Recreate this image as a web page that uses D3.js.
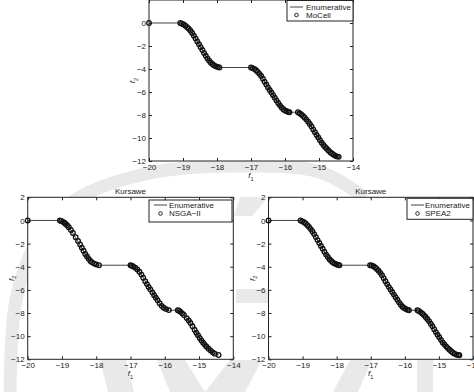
<!DOCTYPE html>
<html lang="en">
<head>
<meta charset="UTF-8">
<title>Kursawe</title>
<script src="https://d3js.org/d3.v7.min.js"></script>
<style>
  body { margin: 0; background: #fff; font-family: "Liberation Sans", Arial, Helvetica, sans-serif; }
  svg { display: block; }
  .tick text { font-size: 8px; fill: #222; font-family: "Liberation Sans", Arial, sans-serif; }
  .tick line { stroke: #222; }
  .lbl { font-size: 8px; fill: #222; }
</style>
</head>
<body>
<div id="chart"></div>
<script>
// tick values
const xTicks = [-20, -19, -18, -17, -16, -15, -14];
const yTicks = [2, 0, -2, -4, -6, -8, -10, -12];

// true front found by enumeration [f1, f2]
const enumerative = [
  [-20, 0], [-19.08, 0], [-19.0, -0.1], [-18.9, -0.3], [-18.8, -0.6], [-18.7, -1.0], [-18.6, -1.5],
  [-18.5, -2.0], [-18.4, -2.5], [-18.3, -3.0], [-18.2, -3.4], [-18.1, -3.65], [-18.0, -3.8], [-17.93, -3.87],
  [-17.0, -3.87], [-16.9, -4.0], [-16.8, -4.25], [-16.7, -4.6], [-16.6, -5.1], [-16.5, -5.6], [-16.4, -6.05],
  [-16.3, -6.5], [-16.2, -6.95], [-16.1, -7.35], [-16.0, -7.6], [-15.9, -7.73], [-15.87, -7.76],
  [-15.62, -7.76], [-15.5, -8.0], [-15.4, -8.3], [-15.3, -8.65], [-15.2, -9.1], [-15.1, -9.6], [-15.0, -10.05],
  [-14.9, -10.5], [-14.8, -10.85], [-14.7, -11.15], [-14.6, -11.4], [-14.5, -11.57], [-14.42, -11.64]
];

// solutions found by each algorithm [f1, f2]
const mocell = [
  [-20, 0],
  [-19.08, 0], [-19.03, -0.06], [-18.98, -0.13], [-18.93, -0.23], [-18.88, -0.36], [-18.83, -0.5], [-18.78, -0.67],
  [-18.73, -0.87], [-18.68, -1.1], [-18.63, -1.34], [-18.58, -1.6], [-18.53, -1.85], [-18.48, -2.1], [-18.43, -2.35],
  [-18.38, -2.6], [-18.33, -2.85], [-18.28, -3.08], [-18.23, -3.28], [-18.18, -3.46], [-18.13, -3.59], [-18.08, -3.69],
  [-18.03, -3.77], [-17.98, -3.82], [-17.93, -3.87],
  [-17.0, -3.87], [-16.95, -3.92], [-16.9, -4.0], [-16.85, -4.11], [-16.8, -4.25], [-16.75, -4.42], [-16.7, -4.6],
  [-16.65, -4.84], [-16.6, -5.1], [-16.55, -5.35], [-16.5, -5.6], [-16.45, -5.83], [-16.4, -6.05], [-16.35, -6.28],
  [-16.3, -6.5], [-16.25, -6.73], [-16.2, -6.95], [-16.15, -7.16], [-16.1, -7.35], [-16.05, -7.5], [-16.0, -7.6],
  [-15.95, -7.68], [-15.9, -7.73], [-15.87, -7.76],
  [-15.62, -7.76], [-15.57, -7.85], [-15.52, -7.96], [-15.47, -8.08], [-15.42, -8.23], [-15.37, -8.4], [-15.32, -8.58],
  [-15.27, -8.78], [-15.22, -9.0], [-15.17, -9.25], [-15.12, -9.5], [-15.07, -9.74], [-15.02, -9.96], [-14.97, -10.19],
  [-14.92, -10.41], [-14.87, -10.61], [-14.82, -10.78], [-14.77, -10.94], [-14.72, -11.09], [-14.67, -11.23],
  [-14.62, -11.35], [-14.57, -11.46], [-14.52, -11.55], [-14.47, -11.6], [-14.42, -11.64]
];

const nsga2 = [
  [-20, 0],
  [-19.06, 0], [-19.02, -0.04], [-18.97, -0.12], [-18.93, -0.2], [-18.9, -0.28], [-18.85, -0.42], [-18.8, -0.58],
  [-18.74, -0.82], [-18.68, -1.08], [-18.6, -1.45], [-18.53, -1.78], [-18.47, -2.08], [-18.42, -2.35], [-18.37, -2.62],
  [-18.32, -2.9], [-18.27, -3.12], [-18.22, -3.32], [-18.17, -3.5], [-18.12, -3.62], [-18.06, -3.73], [-18.0, -3.8],
  [-17.92, -3.87],
  [-17.0, -3.87], [-16.96, -3.91], [-16.92, -3.97], [-16.86, -4.08], [-16.8, -4.24], [-16.74, -4.44], [-16.68, -4.68],
  [-16.63, -4.95], [-16.57, -5.25], [-16.52, -5.5], [-16.47, -5.75], [-16.42, -5.96], [-16.36, -6.23], [-16.31, -6.46],
  [-16.26, -6.68], [-16.21, -6.9], [-16.15, -7.16], [-16.09, -7.38], [-16.03, -7.54], [-15.96, -7.66], [-15.88, -7.75],
  [-15.62, -7.76], [-15.58, -7.8], [-15.54, -7.9], [-15.49, -8.03], [-15.44, -8.17], [-15.36, -8.44], [-15.3, -8.65],
  [-15.25, -8.86], [-15.19, -9.15], [-15.13, -9.45], [-15.08, -9.7], [-15.03, -9.92], [-14.98, -10.15], [-14.93, -10.37],
  [-14.88, -10.57], [-14.83, -10.75], [-14.78, -10.91], [-14.72, -11.09], [-14.66, -11.25], [-14.6, -11.4],
  [-14.54, -11.51], [-14.43, -11.63]
];

const spea2 = [
  [-20, 0],
  [-19.06, 0], [-19.01, -0.08], [-18.96, -0.16], [-18.91, -0.27], [-18.86, -0.41], [-18.81, -0.56], [-18.76, -0.75],
  [-18.71, -0.95], [-18.66, -1.18], [-18.61, -1.44], [-18.56, -1.7], [-18.51, -1.95], [-18.46, -2.2], [-18.41, -2.45],
  [-18.36, -2.7], [-18.31, -2.95], [-18.26, -3.16], [-18.21, -3.36], [-18.16, -3.51], [-18.11, -3.63], [-18.06, -3.73],
  [-18.01, -3.79], [-17.96, -3.84], [-17.92, -3.87],
  [-17.02, -3.87], [-16.97, -3.9], [-16.92, -3.96], [-16.87, -4.06], [-16.82, -4.19], [-16.77, -4.35], [-16.72, -4.53],
  [-16.67, -4.74], [-16.62, -4.99], [-16.57, -5.25], [-16.52, -5.5], [-16.47, -5.74], [-16.42, -5.96], [-16.37, -6.19],
  [-16.32, -6.41], [-16.27, -6.64], [-16.22, -6.86], [-16.17, -7.08], [-16.12, -7.28], [-16.07, -7.45], [-16.02, -7.57],
  [-15.97, -7.66], [-15.92, -7.72], [-15.88, -7.76],
  [-15.63, -7.76], [-15.59, -7.82], [-15.54, -7.92], [-15.49, -8.04], [-15.44, -8.18], [-15.39, -8.35], [-15.34, -8.52],
  [-15.29, -8.7], [-15.24, -8.92], [-15.19, -9.15], [-15.14, -9.4], [-15.09, -9.65], [-15.04, -9.87], [-14.99, -10.1],
  [-14.94, -10.32], [-14.89, -10.54], [-14.84, -10.71], [-14.79, -10.88], [-14.74, -11.03], [-14.69, -11.18],
  [-14.64, -11.31], [-14.59, -11.43], [-14.54, -11.52], [-14.48, -11.6], [-14.43, -11.63], [-14.4, -11.65]
];

const W = 474, H = 392;

const svg = d3.select("#chart").append("svg")
  .attr("width", W)
  .attr("height", H);

// faint watermark in the background
const wm = svg.append("g").attr("fill", "#e9e9e9").attr("stroke", "none");
wm.append("path")
  .attr("d", d3.line().curve(d3.curveCatmullRom)([[10, 400], [16, 300], [38, 240], [75, 200], [150, 173], [237, 166], [320, 172], [365, 198]]))
  .attr("fill", "none").attr("stroke", "#e9e9e9").attr("stroke-width", 13);
wm.append("polygon").attr("points", "236,289 268,289 268,303 236,303");
wm.append("polygon").attr("points", "240,197 268,197 252,216 234,216");
wm.append("polygon").attr("points", "100,360 126,360 134,392 108,392");
wm.append("polygon").attr("points", "157,360 185,360 205,392 170,392");
wm.append("polygon").attr("points", "230,360 262,360 245,392 205,392");
wm.append("polygon").attr("points", "350,360 372,360 358,392 333,392");
wm.append("polygon").attr("points", "417,360 433,360 433,392 417,392");

const panels = [
  { name: "MoCell", pts: mocell, x0: 149, x1: 353, y0: 161, y1: 0, title: false,
    leg: { x: 287, y: 0.5, w: 66, h: 20.5, r1: 7, r2: 15, lx: 290, tx: 306 } },
  { name: "NSGA\u2212II", pts: nsga2, x0: 27.7, x1: 233.3, y0: 359.3, y1: 197.3, title: true,
    leg: { x: 149, y: 200, w: 83, h: 22, r1: 205, r2: 213.5, lx: 154, tx: 169 } },
  { name: "SPEA2", pts: spea2, x0: 268.5, x1: 473, y0: 359.3, y1: 197.3, title: true,
    leg: { x: 407, y: 198.3, w: 66, h: 21, r1: 205, r2: 213.5, lx: 411, tx: 425 } }
];

panels.forEach(p => {
  const x = d3.scaleLinear().domain([-20, -14]).range([p.x0, p.x1]);
  const y = d3.scaleLinear().domain([-12, 2]).range([p.y0, p.y1]);
  const g = svg.append("g");

  g.append("rect")
    .attr("x", p.x0).attr("y", p.y1)
    .attr("width", p.x1 - p.x0).attr("height", p.y0 - p.y1)
    .attr("fill", "#fff");

  const fmt = d => d3.format("")(d);
  // label only the ticks that sit inside the picture
  const yLab = yTicks.filter(v => y(v) > 3);

  g.append("g").attr("transform", `translate(0,${p.y0})`)
    .call(d3.axisBottom(x).tickValues(xTicks).tickSizeInner(-3).tickSizeOuter(0).tickPadding(3).tickFormat(fmt))
    .call(a => a.select(".domain").remove());
  g.append("g").attr("transform", `translate(0,${p.y1})`)
    .call(d3.axisTop(x).tickValues(xTicks).tickSizeInner(-3).tickSizeOuter(0).tickFormat(""))
    .call(a => a.select(".domain").remove());
  g.append("g").attr("transform", `translate(${p.x0},0)`)
    .call(d3.axisLeft(y).tickValues(yLab).tickSizeInner(-3).tickSizeOuter(0).tickPadding(3).tickFormat(fmt))
    .call(a => a.select(".domain").remove());
  g.append("g").attr("transform", `translate(${p.x1},0)`)
    .call(d3.axisRight(y).tickValues(yTicks).tickSizeInner(-3).tickSizeOuter(0).tickFormat(""))
    .call(a => a.select(".domain").remove());

  g.append("rect")
    .attr("x", p.x0).attr("y", p.y1)
    .attr("width", p.x1 - p.x0).attr("height", p.y0 - p.y1)
    .attr("fill", "none").attr("stroke", "#222").attr("stroke-width", 1);

  // enumerative front
  g.append("path")
    .datum(enumerative)
    .attr("d", d3.line().x(d => x(d[0])).y(d => y(d[1])).curve(d3.curveMonotoneX))
    .attr("fill", "none").attr("stroke", "#444").attr("stroke-width", 1);

  // algorithm solutions
  g.append("g").selectAll("circle").data(p.pts).join("circle")
    .attr("cx", d => x(d[0])).attr("cy", d => y(d[1]))
    .attr("r", 2.3)
    .attr("fill", "none").attr("stroke", "#111").attr("stroke-width", 1.3);

  // axis titles
  const xm = (p.x0 + p.x1) / 2, ym = (p.y0 + p.y1) / 2;
  const xl = g.append("text").attr("class", "lbl").attr("x", xm).attr("y", p.y0 + 17).attr("text-anchor", "middle");
  xl.append("tspan").attr("font-style", "italic").text("f");
  xl.append("tspan").attr("font-size", "5.5px").attr("dy", 2.5).text("1");

  const yl = g.append("text").attr("class", "lbl")
    .attr("transform", `translate(${p.x0 - 14},${ym}) rotate(-90)`).attr("text-anchor", "middle");
  yl.append("tspan").attr("font-style", "italic").text("f");
  yl.append("tspan").attr("font-size", "5.5px").attr("dy", 2.5).text("2");

  if (p.title) {
    g.append("text").attr("class", "lbl")
      .attr("x", xm).attr("y", p.y1 - 3.5).attr("text-anchor", "middle")
      .text("Kursawe");
  }

  // legend
  const L = p.leg;
  const lg = g.append("g");
  lg.append("rect").attr("x", L.x).attr("y", L.y).attr("width", L.w).attr("height", L.h)
    .attr("fill", "#fff").attr("stroke", "#222").attr("stroke-width", 1);
  lg.append("line").attr("x1", L.lx).attr("x2", L.lx + 13).attr("y1", L.r1).attr("y2", L.r1)
    .attr("stroke", "#444").attr("stroke-width", 1);
  lg.append("circle").attr("cx", L.lx + 6.5).attr("cy", L.r2).attr("r", 1.8)
    .attr("fill", "none").attr("stroke", "#111").attr("stroke-width", 0.9);
  lg.append("text").attr("class", "lbl").attr("x", L.tx).attr("y", L.r1).attr("dy", "0.35em").text("Enumerative");
  lg.append("text").attr("class", "lbl").attr("x", L.tx).attr("y", L.r2).attr("dy", "0.35em").text(p.name);
});
</script>
</body>
</html>
